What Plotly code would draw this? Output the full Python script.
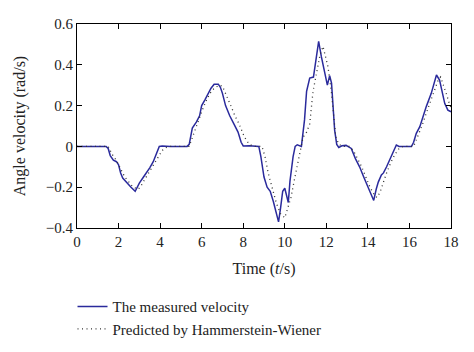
import plotly.graph_objects as go

# Measured velocity (solid)
t_meas = [0, 1.4, 1.5, 1.6, 1.75, 1.9, 2.0, 2.1, 2.2, 2.4, 2.6, 2.8, 3.0, 3.2, 3.35, 3.5, 3.67, 3.8, 3.96,
          4.1, 4.5, 5.3, 5.4, 5.55, 5.75, 5.9, 6.0, 6.15, 6.3, 6.45, 6.6, 6.8, 6.9, 7.0, 7.15, 7.35, 7.55,
          7.75, 7.9, 8.0, 8.3, 8.75, 8.85, 9.0, 9.15, 9.3, 9.45, 9.55, 9.7, 9.8, 9.9, 10.0, 10.1, 10.17,
          10.25, 10.4, 10.5, 10.6, 10.8, 10.95, 11.05, 11.2, 11.38, 11.52, 11.63, 11.76, 11.92, 12.05,
          12.16, 12.25, 12.4, 12.5, 12.6, 12.75, 12.95, 13.2, 13.4, 13.6, 13.8, 13.93, 14.1, 14.28, 14.4,
          14.5, 14.65, 14.75, 14.9, 15.05, 15.2, 15.37, 15.5, 16.1, 16.2, 16.33, 16.5, 16.65, 16.81, 17.05,
          17.2, 17.3, 17.45, 17.6, 17.7, 17.85, 18]
v_meas = [0, 0, -0.01, -0.045, -0.068, -0.075, -0.09, -0.13, -0.155, -0.18, -0.2, -0.22, -0.18, -0.15,
          -0.13, -0.105, -0.075, -0.045, 0, 0.002, 0, 0, 0.01, 0.09, 0.12, 0.15, 0.2, 0.227, 0.26, 0.285,
          0.305, 0.305, 0.29, 0.26, 0.2, 0.15, 0.11, 0.07, 0.02, 0.002, 0.003, 0, -0.05, -0.15, -0.2,
          -0.22, -0.27, -0.31, -0.37, -0.3, -0.22, -0.205, -0.24, -0.275, -0.17, -0.05, 0, 0.008, 0,
          0.13, 0.27, 0.335, 0.34, 0.44, 0.515, 0.44, 0.355, 0.3, 0.347, 0.31, 0.08, 0.01, -0.005, 0.003,
          0.005, -0.01, -0.06, -0.1, -0.15, -0.18, -0.22, -0.265, -0.21, -0.175, -0.14, -0.13, -0.1,
          -0.065, -0.03, 0.007, 0, 0, 0.02, 0.064, 0.097, 0.15, 0.195, 0.26, 0.31, 0.35, 0.325, 0.25,
          0.21, 0.178, 0.17]

# Hammerstein-Wiener prediction (dotted)
t_pred = [0, 1.5, 1.7, 1.9, 2.1, 2.3, 2.5, 2.7, 2.95, 3.1, 3.3, 3.5, 3.7, 3.9, 4.1, 4.3, 4.5, 5.4, 5.6,
          5.8, 6.0, 6.2, 6.4, 6.6, 6.85, 7.0, 7.2, 7.4, 7.6, 7.8, 8.0, 8.15, 8.3, 8.5, 8.9, 9.05, 9.2,
          9.4, 9.6, 9.8, 10.0, 10.15, 10.3, 10.45, 10.56, 10.7, 10.88, 11.05, 11.2, 11.36, 11.55, 11.7,
          11.84, 11.95, 12.08, 12.24, 12.35, 12.45, 12.6, 12.8, 13.1, 13.3, 13.5, 13.7, 13.9, 14.1,
          14.35, 14.45, 14.6, 14.75, 14.9, 15.1, 15.3, 15.5, 15.7, 16.2, 16.4, 16.6, 16.8, 17.0, 17.2,
          17.4, 17.5, 17.65, 17.8, 17.95, 18]
v_pred = [0, 0, -0.04, -0.07, -0.11, -0.15, -0.175, -0.2, -0.21, -0.19, -0.155, -0.12, -0.085, -0.05,
          -0.02, -0.005, 0, 0, 0.06, 0.11, 0.17, 0.22, 0.26, 0.285, 0.3, 0.295, 0.25, 0.2, 0.15, 0.11,
          0.06, 0.03, 0.01, 0, 0, -0.05, -0.13, -0.2, -0.28, -0.33, -0.35, -0.3, -0.25, -0.17, -0.115,
          -0.05, 0.045, 0.07, 0.11, 0.27, 0.38, 0.45, 0.49, 0.45, 0.39, 0.27, 0.15, 0.05, 0.01, 0, 0,
          -0.02, -0.06, -0.1, -0.15, -0.2, -0.245, -0.25, -0.22, -0.17, -0.13, -0.08, -0.04, -0.01, 0,
          0, 0.05, 0.1, 0.16, 0.22, 0.28, 0.33, 0.34, 0.3, 0.25, 0.2, 0.19]

x_ticks = [0, 2, 4, 6, 8, 10, 12, 14, 16, 18]
y_ticks = [-0.4, -0.2, 0, 0.2, 0.4, 0.6]
y_ticklabels = ["\u22120.4", "\u22120.2", "0", "0.2", "0.4", "0.6"]

FONT = "Liberation Serif, Times New Roman, serif"

fig = go.Figure()
fig.add_trace(go.Scatter(x=t_meas, y=v_meas, mode="lines", name="The measured velocity",
                         line=dict(color="#2a2a9c", width=1.5)))
fig.add_trace(go.Scatter(x=t_pred, y=v_pred, mode="lines", name="Predicted by Hammerstein-Wiener",
                         line=dict(color="#333333", width=1.3, dash="1px,3.5px")))

fig.update_layout(
    width=474, height=352,
    margin=dict(l=77, r=23, t=24, b=124, autoexpand=False),
    paper_bgcolor="white", plot_bgcolor="white",
    font=dict(family=FONT, size=15, color="#222222"),
    showlegend=True,
    legend=dict(x=-0.012, y=-0.305, xanchor="left", yanchor="top", bgcolor="rgba(0,0,0,0)",
                font=dict(family=FONT, size=15, color="#222222"), tracegroupgap=0),
)
fig.update_xaxes(range=[0, 18], tickvals=x_ticks, ticktext=[str(v) for v in x_ticks],
                 showline=True, linecolor="black", linewidth=1, mirror="ticks",
                 ticks="inside", ticklen=5, tickcolor="black", showgrid=False, zeroline=False,
                 title=dict(text="Time (<i>t</i>/s)", standoff=13, font=dict(size=16)),
                 tickfont=dict(size=15))
fig.update_yaxes(range=[-0.4, 0.6], tickvals=y_ticks, ticktext=y_ticklabels,
                 showline=True, linecolor="black", linewidth=1, mirror="ticks",
                 ticks="inside", ticklen=5, tickcolor="black", showgrid=False, zeroline=False,
                 title=dict(text="Angle velocity (rad/s)", standoff=16, font=dict(size=16)),
                 tickfont=dict(size=15))

fig.write_html("out.html")
